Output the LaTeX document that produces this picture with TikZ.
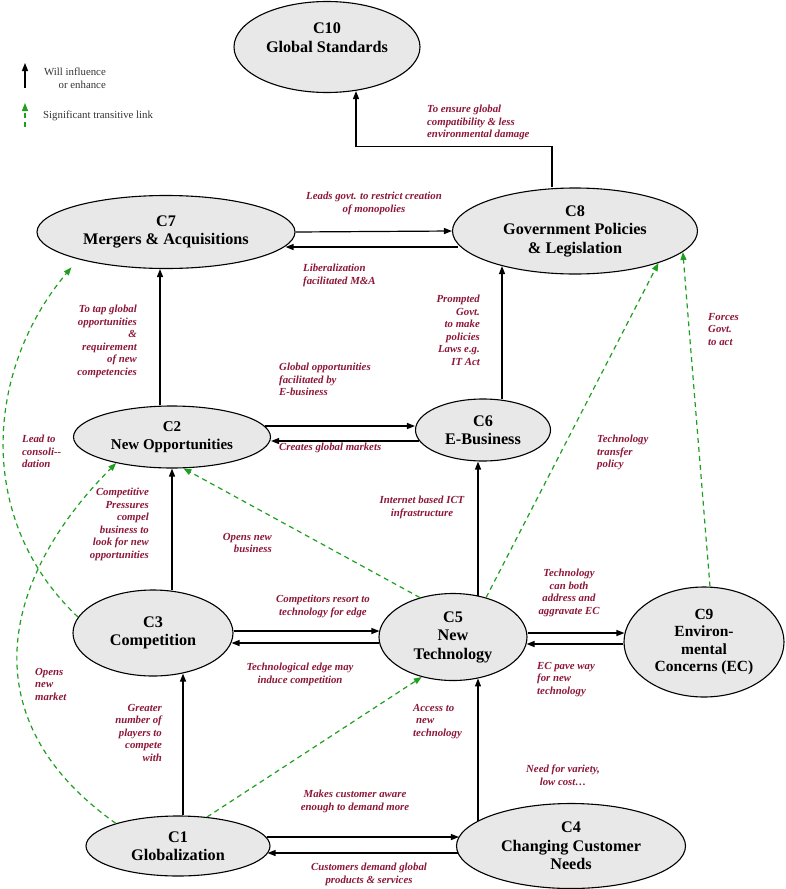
\documentclass[tikz,border=0pt]{standalone}
\usepackage{fontspec}
\setmainfont{Liberation Serif}
\usetikzlibrary{shapes.geometric,arrows.meta}
\definecolor{linkred}{RGB}{140,22,56}
\definecolor{linkgreen}{RGB}{30,160,30}
\definecolor{conceptgray}{RGB}{232,232,232}

\begin{document}
\begin{tikzpicture}[x=1pt,y=-1pt,
    concept/.style={ellipse,draw,line width=1.1pt,fill=conceptgray,inner sep=0pt,align=center,font=\fontsize{16.2}{18.5}\selectfont\bfseries},
    infl/.style={line width=1.2pt,-{Triangle[length=8pt,width=6pt]}},
    trans/.style={line width=1.2pt,linkgreen,dash pattern=on 5pt off 4pt,-{Triangle[length=8pt,width=6pt]}},
    why/.style={inner sep=0pt,text=linkred,font=\fontsize{10.8}{12.5}\selectfont\bfseries\itshape},
    legend/.style={inner sep=0pt,text=black!80,font=\fontsize{10.8}{13}\selectfont}]

    \useasboundingbox (0,0) rectangle (785,889);

    % legend
    \coordinate (lgb0) at (25,88);
    \coordinate (lgb1) at (25,63);
    \coordinate (lgg0) at (25,127);
    \coordinate (lgg1) at (25,103);
    \draw[infl] (lgb0) -- (lgb1);
    \draw[trans] (lgg0) -- (lgg1);
    \node[legend,anchor=north east,align=right] (lg1) at (106,68) {Will influence\\or enhance};
    \node[legend,anchor=north west] (lg2) at (43,111) {Significant transitive link};

    % concepts
    \node[concept,minimum width=186pt,minimum height=91pt] (c10) at (327,47) {C10\\Global Standards\\\mbox{}};
    \node[concept,minimum width=258pt,minimum height=73pt] (c7) at (166,232) {C7\\Mergers \& Acquisitions};
    \node[concept,minimum width=245pt,minimum height=86pt] (c8) at (575,231) {C8\\Government Policies\\\& Legislation};
    \node[concept,minimum width=197pt,minimum height=62pt,font=\fontsize{15}{18.5}\selectfont\bfseries] (c2) at (172,437) {C2\\New Opportunities};
    \node[concept,minimum width=135pt,minimum height=62pt] (c6) at (483,430) {C6\\E-Business};
    \node[concept,minimum width=160pt,minimum height=86pt] (c3) at (153,633) {C3\\Competition};
    \node[concept,minimum width=148pt,minimum height=87pt] (c5) at (453,637) {C5\\New\\Technology};
    \node[concept,minimum width=160pt,minimum height=110pt,font=\fontsize{15.5}{17.5}\selectfont\bfseries] (c9) at (704,642) {C9\\Environ-\\mental\\Concerns (EC)};
    \node[concept,minimum width=184pt,minimum height=60pt] (c1) at (178,846) {C1\\Globalization};
    \node[concept,minimum width=229pt,minimum height=85pt] (c4) at (571,846) {C4\\Changing Customer\\Needs};

    % will influence
    \draw[infl] ([xshift=-12pt]c2.north) -- ([xshift=-6pt]c7.south);
    \draw[infl] (c7.east) -- (c8.west);
    \draw[infl] ([xshift=6pt,yshift=-16pt]c8.west) -- ([xshift=-10pt,yshift=-15pt]c7.east);
    \draw[infl] ([xshift=-23pt]c8.north) -- ++(0,-41) -| ([xshift=29pt,yshift=2pt]c10.south);
    \draw[infl] ([xshift=19pt,yshift=-1pt]c6.north) -- ([xshift=-73pt,yshift=8.5pt]c8.south);
    \draw[infl] ([xshift=-6pt,yshift=11pt]c2.east) -- ([yshift=4pt]c6.west);
    \draw[infl] ([xshift=4pt,yshift=-11pt]c6.west) -- ([yshift=-4pt]c2.east);
    \draw[infl] ([xshift=25pt,yshift=-2.6pt]c5.north) -- ([xshift=-5pt]c6.south);
    \draw[infl] ([xshift=19pt,yshift=-1pt]c3.north) -- (c2.south);
    \draw[infl] ([yshift=2pt]c3.east) -- ([xshift=1pt,yshift=6pt]c5.west);
    \draw[infl] ([xshift=1pt,yshift=-6pt]c5.west) -- ([xshift=-2pt,yshift=-10pt]c3.east);
    \draw[infl] ([yshift=4pt]c5.east) -- ([xshift=1pt,yshift=9pt]c9.west);
    \draw[infl] ([yshift=-2pt]c9.west) -- ([xshift=-1pt,yshift=-7pt]c5.east);
    \draw[infl] ([xshift=5pt]c1.north) -- ([xshift=30pt,yshift=3pt]c3.south);
    \draw[infl] ([xshift=-4pt,yshift=9pt]c1.east) -- ([xshift=3pt,yshift=9pt]c4.west);
    \draw[infl] ([xshift=2pt,yshift=-7pt]c4.west) -- ([xshift=-3pt,yshift=-7pt]c1.east);
    \draw[infl] ([xshift=-93pt,yshift=-18pt]c4.north) -- ([xshift=25pt,yshift=2.6pt]c5.south);

    % transitive links
    \draw[trans] (c3.168) .. controls (-25,520) and (-15,370) .. ([yshift=-10pt]c7.195);
    \draw[trans] (c1.160) .. controls (-30,720) and (0,580) .. (c2.205);
    \draw[trans] (c1.45) -- (c5.232);
    \draw[trans] (c5.130) -- (c2.-70);
    \draw[trans] (c5.50) -- (c8.-21);
    \draw[trans] ([xshift=6pt]c9.north) -- (c8.-11);

    % link labels
    \node[why,anchor=north west,align=left] (w10) at (427,105) {To ensure global\\compatibility \& less\\environmental damage};
    \node[why,anchor=north,align=center] (w78) at (374,192) {Leads govt. to restrict creation\\of monopolies};
    \node[why,anchor=north west,align=left] (w87) at (303,264) {Liberalization\\facilitated M\&A};
    \node[why,anchor=north east,align=right] (w27) at (137,305) {To tap global\\opportunities\\\&\\requirement\\of new\\competencies};
    \node[why,anchor=north west,align=left] (w26) at (279,363) {Global opportunities\\facilitated by\\E-business};
    \node[why,anchor=north west] (w62) at (279,443) {Creates global markets};
    \node[why,anchor=north east,align=right] (w68) at (480,295) {Prompted\\Govt.\\to make\\policies\\Laws e.g.\\IT Act};
    \node[why,anchor=north west,align=left] (w98) at (708,313) {Forces\\Govt.\\to act};
    \node[why,anchor=north west,align=left] (w37) at (22,435) {Lead to\\consoli-{}-\\dation};
    \node[why,anchor=north,align=center] (w56) at (422,496) {Internet based ICT\\infrastructure};
    \node[why,anchor=north east,align=right] (w32) at (149,488) {Competitive\\Pressures\\compel\\business to\\look for new\\opportunities};
    \node[why,anchor=north east,align=right] (w52) at (272,533) {Opens new\\business};
    \node[why,anchor=north west,align=left] (w58) at (597,435) {Technology\\transfer\\policy};
    \node[why,anchor=north,align=center] (w35) at (323,595) {Competitors resort to\\technology for edge};
    \node[why,anchor=north,align=center] (w53) at (300,663) {Technological edge may\\induce competition};
    \node[why,anchor=north,align=center] (w59) at (569,569) {Technology\\can both\\address and\\aggravate EC};
    \node[why,anchor=north west,align=left] (w95) at (537,662) {EC pave way\\for new\\technology};
    \node[why,anchor=north west,align=left] (w12) at (35,668) {Opens\\new\\market};
    \node[why,anchor=north east,align=right] (w13) at (162,704) {Greater\\number of\\players to\\compete\\with};
    \node[why,anchor=north west,align=left] (w15) at (413,704) {Access to\\\hspace{3pt}new\\technology};
    \node[why,anchor=north,align=center] (w45) at (563,765) {Need for variety,\\low cost\ldots};
    \node[why,anchor=north,align=center] (w14) at (355,790) {Makes customer aware\\enough to demand more};
    \node[why,anchor=north,align=center] (w41) at (369,863) {Customers demand global\\products \& services};
\end{tikzpicture}
\end{document}
